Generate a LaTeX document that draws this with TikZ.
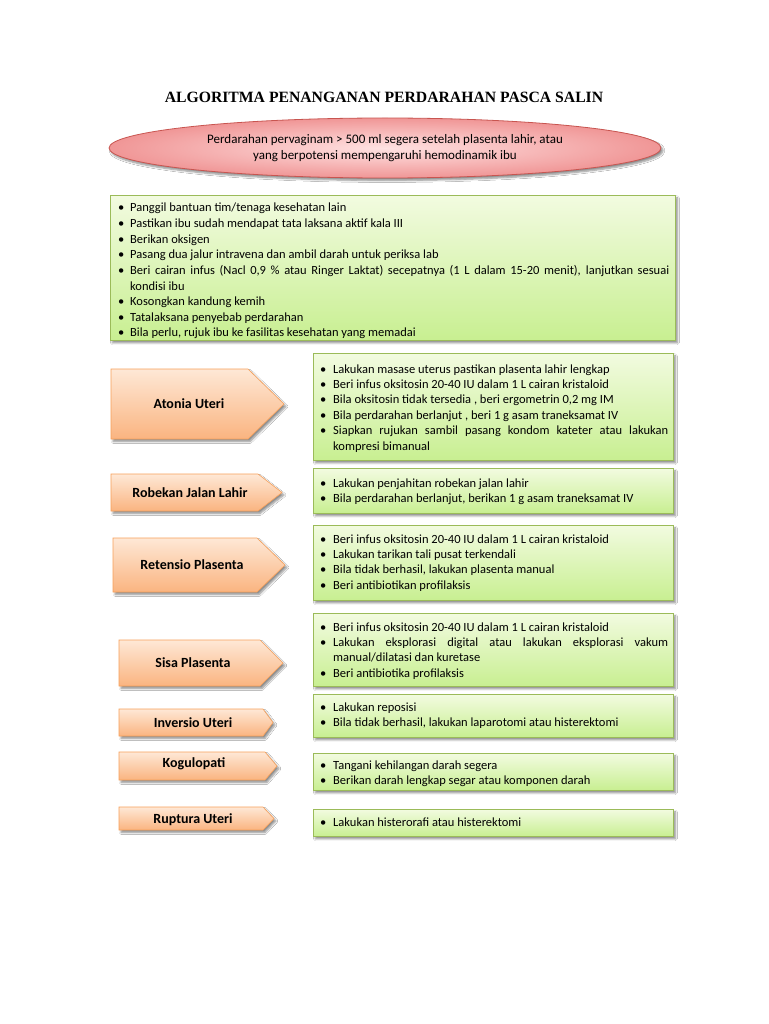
\documentclass[tikz,border=0pt]{standalone}
\usepackage{fontspec}
\setmainfont{Carlito}
\newfontfamily\serifbold{Liberation Serif}
\usetikzlibrary{shapes.geometric,shadows.blur}
\definecolor{gborder}{RGB}{155,187,89}
\definecolor{gtop}{RGB}{242,251,224}
\definecolor{gbot}{RGB}{200,239,145}
\definecolor{oborder}{RGB}{247,160,90}
\definecolor{otop}{RGB}{254,232,214}
\definecolor{obot}{RGB}{250,180,128}
\definecolor{eborder}{RGB}{200,85,80}
\definecolor{ein}{RGB}{255,226,226}
\definecolor{eout}{RGB}{240,150,150}
\tikzset{
  shd/.style={blur shadow={shadow xshift=2pt,shadow yshift=-2.5pt,shadow blur steps=6,shadow opacity=45}},
  gbox/.style={draw=gborder, line width=0.8pt, top color=gtop, bottom color=gbot, shd, anchor=north west, inner sep=0pt},
  obox/.style={draw=oborder, line width=0.6pt, top color=otop, bottom color=obot, shd},
  lbl/.style={font=\fontsize{14}{16}\selectfont\bfseries, inner sep=0pt},
  txt/.style={anchor=base west, inner sep=0pt},
}
\newcommand\bl[2][13pt]{\noindent\hangindent=#1\hangafter=1\makebox[#1][l]{\textbullet}#2\par}
\newcommand\btext[3][15.4pt]{\parbox[t]{#2}{\fontsize{12.5}{#1}\selectfont\emergencystretch=3pt#3}}
\newcommand\pent[9]{%
  \path[obox] (#1,#2) -- (#5,#2) -- (#3,{(#2+#4)/2}) -- (#5,#4) -- (#1,#4) -- cycle;
  \node[lbl] (#8) at (#6,#7) {#9};}
\begin{document}
\begin{tikzpicture}[x=1pt,y=-1pt]
\useasboundingbox[fill=white] (0,0) rectangle (768,1024);

\node[font=\serifbold\bfseries\fontsize{15.7}{18}\selectfont, inner sep=0pt] (title) at (384,97) {ALGORITMA PENANGANAN PERDARAHAN PASCA SALIN};

\node[ellipse, draw=eborder, line width=0.8pt, inner color=ein, outer color=eout, shd,
  minimum width=552pt, minimum height=60pt, align=center,
  font=\fontsize{13}{16}\selectfont] (start) at (385,148)
  {Perdarahan pervaginam > 500 ml segera setelah plasenta lahir, atau\\yang berpotensi mempengaruhi hemodinamik ibu};

% main box
\node[gbox, minimum width=565pt, minimum height=145pt] (main) at (110,195) {};
\node[txt] (maintxt) at (118,212) {\btext[15.6pt]{551pt}{%
\bl[12pt]{Panggil bantuan tim/tenaga kesehatan lain}
\bl[12pt]{Pastikan ibu sudah mendapat tata laksana aktif kala III}
\bl[12pt]{Berikan oksigen}
\bl[12pt]{Pasang dua jalur intravena dan ambil darah untuk periksa lab}
\bl[12pt]{Beri cairan infus (Nacl 0,9 \% atau Ringer Laktat) secepatnya (1 L dalam 15-20 menit), lanjutkan sesuai\linebreak kondisi ibu}
\bl[12pt]{Kosongkan kandung kemih}
\bl[12pt]{Tatalaksana penyebab perdarahan}
\bl[12pt]{Bila perlu, rujuk ibu ke fasilitas kesehatan yang memadai}}};

% Atonia
\pent{111}{369}{284}{439}{248}{189}{404}{atonia}{Atonia Uteri}
\node[gbox, minimum width=360pt, minimum height=107pt] (b1) at (313,353) {};
\node[txt] (t1) at (320,373) {\btext{348pt}{%
\bl{Lakukan masase uterus pastikan plasenta lahir lengkap}
\bl{Beri infus oksitosin 20-40 IU dalam 1 L cairan kristaloid}
\bl{Bila oksitosin tidak tersedia , beri ergometrin 0,2 mg IM}
\bl{Bila perdarahan berlanjut , beri 1 g asam traneksamat IV}
\bl{Siapkan rujukan sambil pasang kondom kateter atau lakukan\linebreak kompresi bimanual}}};

% Robekan
\pent{111}{474}{282}{511}{258}{190}{493}{robekan}{Robekan Jalan Lahir}
\node[gbox, minimum width=360pt, minimum height=45pt] (b2) at (313,468) {};
\node[txt] (t2) at (320,487) {\btext{348pt}{%
\bl{Lakukan penjahitan robekan jalan lahir}
\bl{Bila perdarahan berlanjut, berikan 1 g asam traneksamat IV}}};

% Retensio
\pent{113}{538}{285}{592}{257}{192}{565}{retensio}{Retensio Plasenta}
\node[gbox, minimum width=360pt, minimum height=75pt] (b3) at (313,525) {};
\node[txt] (t3) at (320,543) {\btext{348pt}{%
\bl{Beri infus oksitosin 20-40 IU dalam 1 L cairan kristaloid}
\bl{Lakukan tarikan tali pusat terkendali}
\bl{Bila tidak berhasil, lakukan plasenta manual}
\bl{Beri antibiotikan profilaksis}}};

% Sisa
\pent{119}{640}{283}{686}{260}{193}{663}{sisa}{Sisa Plasenta}
\node[gbox, minimum width=360pt, minimum height=73pt] (b4) at (313,613) {};
\node[txt] (t4) at (320,631) {\btext{348pt}{%
\bl{Beri infus oksitosin 20-40 IU dalam 1 L cairan kristaloid}
\bl{Lakukan eksplorasi digital atau lakukan eksplorasi vakum\linebreak manual/dilatasi dan kuretase}
\bl{Beri antibiotika profilaksis}}};

% Inversio
\pent{119}{709}{273}{736}{263}{193}{723}{inversio}{Inversio Uteri}
\node[gbox, minimum width=360pt, minimum height=43pt] (b5) at (313,694) {};
\node[txt] (t5) at (320,711) {\btext{348pt}{%
\bl{Lakukan reposisi}
\bl{Bila tidak berhasil, lakukan laparotomi atau histerektomi}}};

% Kogulopati
\pent{119}{752}{277}{780}{265}{194}{764}{kogulopati}{Kogulopati}
\node[gbox, minimum width=360pt, minimum height=37pt] (b6) at (313,753) {};
\node[txt] (t6) at (320,769) {\btext{348pt}{%
\bl{Tangani kehilangan darah segera}
\bl{Berikan darah lengkap segar atau komponen darah}}};

% Ruptura
\pent{119}{807}{274}{830}{263}{193}{820}{ruptura}{Ruptura Uteri}
\node[gbox, minimum width=360pt, minimum height=27pt] (b7) at (313,809) {};
\node[txt] (t7) at (320,826) {\btext{348pt}{%
\bl{Lakukan histerorafi atau histerektomi}}};
\end{tikzpicture}
\end{document}
